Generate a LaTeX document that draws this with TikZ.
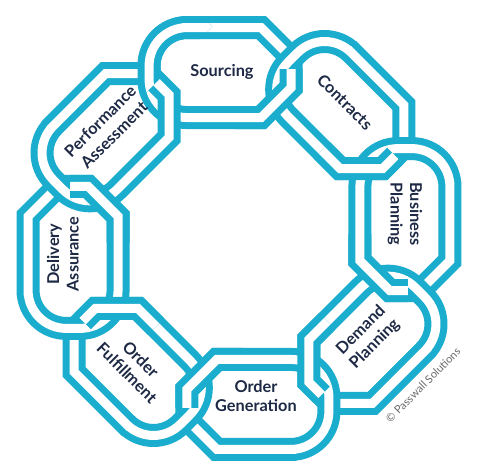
\documentclass[tikz,border=0pt]{standalone}
\usepackage{fontspec}
\setmainfont{Lato}
\definecolor{cy}{HTML}{1AADCE}
\definecolor{navy}{HTML}{1E2A45}
\definecolor{cpy}{HTML}{6A6A6A}
\tikzset{
  band/.style={draw=cy, line width=7pt, double=white, double distance=9pt},
  lbl/.style={text=navy, font=\fontsize{16.3}{19.5}\selectfont\bfseries, align=center, inner sep=0pt},
  frm/.style={shift={(239,232.5)}, shift={({96.5-45*#1}:167)}, rotate={-45*#1}},
}
\newcommand\lkpath{(0,-45) [rounded corners=38pt] -- (-71,-45) -- (-71,45) -- (0,45) [sharp corners] -- (41,45) -- (71,15) -- (71,-15) -- (41,-45) -- cycle}
\newcommand\lk[1]{\begin{scope}[frm=#1]\draw[band] \lkpath;\end{scope}}
\newcommand\lkover[1]{\begin{scope}[frm=#1]\clip (15,-100) rectangle (150,3);\draw[band] \lkpath;\end{scope}}
\begin{document}
\begin{tikzpicture}[x=1pt,y=1pt]
\fill[white] (0,0) rectangle (480,471);
\useasboundingbox (0,0) rectangle (480,471);
\lk{0}\lk{1}\lk{2}\lk{3}\lk{4}\lk{5}\lk{6}\lk{7}
\lkover{0}\lkover{1}\lkover{2}\lkover{3}\lkover{4}\lkover{5}\lkover{6}
\begin{scope}
  \clip[frm=7] (15,3) rectangle (150,100);
  \lk{0}
\end{scope}
\node[lbl] (s) at (222,399) {Sourcing};
\node[lbl, rotate=-45] (c) at (345,369) {Contracts};
\node[lbl, rotate=-90] (bp) at (405,257) {Business\\Planning};
\node[lbl, rotate=45] (dp) at (368,134) {Demand\\Planning};
\node[lbl] (og) at (256,75) {Order\\Generation};
\node[lbl, rotate=-45] (of) at (134,105) {Order\\Fulfillment};
\node[lbl, rotate=90] (da) at (63,217) {Delivery\\Assurance};
\node[lbl, rotate=45] (pa) at (107,343) {Performance\\Assessment};
\node[text=cpy, font=\fontsize{11}{12}\selectfont, rotate=45, inner sep=0pt] (cr) at (423,86) {© Passwall Solutions};
\end{tikzpicture}
\end{document}
